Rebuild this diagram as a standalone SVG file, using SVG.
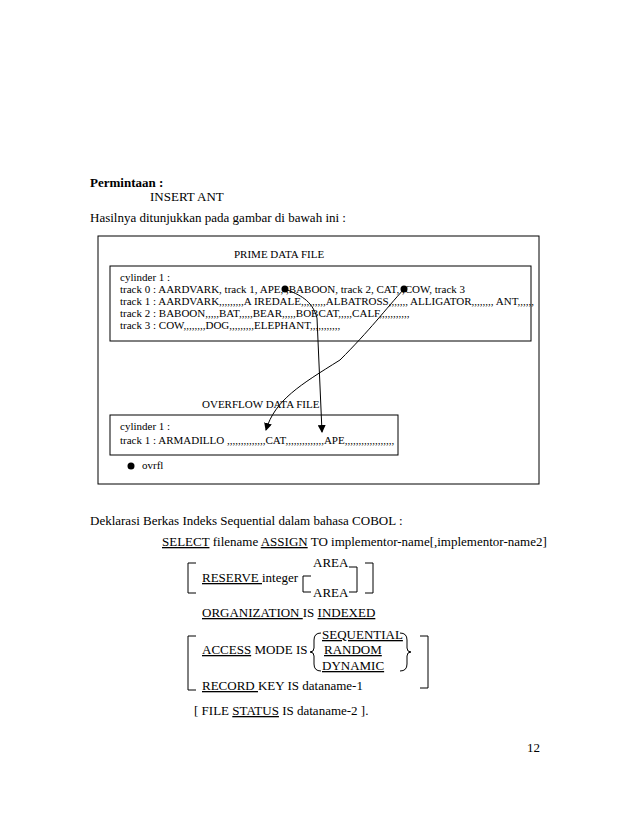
<svg xmlns="http://www.w3.org/2000/svg" width="638" height="826" viewBox="0 0 638 826">
<style>
text{font-family:"Liberation Serif",serif;fill:#000}
.b{font-size:13px}
.s{font-size:11px}
.box{fill:none;stroke:#000;stroke-width:1}
.br{fill:none;stroke:#000;stroke-width:1}
.u{text-decoration:underline}
</style>
<defs><marker id="ah" markerWidth="8" markerHeight="8" refX="7" refY="4" orient="auto" markerUnits="userSpaceOnUse"><path d="M0,0 L8,4 L0,8 z" fill="#000"/></marker></defs>
<rect width="638" height="826" fill="#fff"/>
<text class="b" x="90" y="187" font-weight="bold">Permintaan :</text>
<text class="b" x="150" y="201">INSERT ANT</text>
<text class="b" x="90" y="222">Hasilnya ditunjukkan pada gambar di bawah ini :</text>
<g id="outer"><rect class="box" x="98" y="236" width="441" height="248"/></g>
<g id="prime">
<text class="s" x="234" y="258">PRIME DATA FILE</text>
<rect class="box" x="110" y="266" width="421" height="75"/>
<text class="s" x="120" y="281">cylinder 1 :</text>
<text class="s" x="120" y="293">track 0 : AARDVARK, track 1, APE,  ,BABOON, track 2, CAT,  ,COW, track 3</text>
<text class="s" x="120" y="305">track 1 : AARDVARK,,,,,,,,,A IREDALE,,,,,,,,,ALBATROSS,,,,,,, ALLIGATOR,,,,,,,, ANT,,,,,,</text>
<text class="s" x="120" y="317">track 2 : BABOON,,,,,BAT,,,,,BEAR,,,,,BOBCAT,,,,,CALF,,,,,,,,,,,</text>
<text class="s" x="120" y="329">track 3 : COW,,,,,,,,DOG,,,,,,,,,ELEPHANT,,,,,,,,,,,</text>
<circle cx="285" cy="289" r="3.5"/><circle cx="404" cy="289" r="3.5"/>
</g>
<g id="overflow">
<text class="s" x="202" y="408">OVERFLOW DATA FILE</text>
<rect class="box" x="110" y="415" width="288" height="40"/>
<text class="s" x="120" y="430">cylinder 1 :</text>
<text class="s" x="120" y="444">track 1 : ARMADILLO ,,,,,,,,,,,,,,CAT,,,,,,,,,,,,,,APE,,,,,,,,,,,,,,,,,,</text>
</g>
<g id="legend"><circle cx="131" cy="466" r="3.5"/><text class="s" x="142" y="469">ovrfl</text></g>
<g id="connectors" fill="none" stroke="#000" stroke-width="1">
<path d="M285,289 C300,295 312,300 317,318 L322,432" marker-end="url(#ah)"/>
<path d="M404,289 C385,310 370,330 340,360 C300,385 275,400 266,430" marker-end="url(#ah)"/>
</g>
<g id="cobol">
<text class="b" x="90" y="525">Deklarasi Berkas Indeks Sequential dalam bahasa COBOL :</text>
<text class="b" x="162" y="546"><tspan class="u">SELECT</tspan> filename <tspan class="u">ASSIGN</tspan> TO implementor-name[,implementor-name2]</text>
<text class="b" x="313" y="567">AREA</text>
<text class="b" x="202" y="582"><tspan class="u">RESERVE </tspan>integer</text>
<text class="b" x="313" y="597">AREA</text>
<path class="br" d="M196,563 L188,563 L188,593 L196,593"/>
<path class="br" d="M365,563 L373,563 L373,593 L365,593"/>
<path class="br" d="M311,576 L303,576 L303,592 L311,592"/>
<path class="br" d="M349,567 L357,567 L357,592 L349,592"/>
<text class="b" x="202" y="617"><tspan class="u">ORGANIZATION </tspan>IS <tspan class="u">INDEXED</tspan></text>
<text class="b" x="322" y="639"><tspan class="u">SEQUENTIAL</tspan></text>
<text class="b" x="202" y="654"><tspan class="u">ACCESS</tspan> MODE IS</text>
<text class="b" x="324" y="654"><tspan class="u">RANDOM</tspan></text>
<text class="b" x="322" y="670"><tspan class="u">DYNAMIC</tspan></text>
<text class="b" x="202" y="690"><tspan class="u">RECORD </tspan>KEY IS dataname-1</text>
<path class="br" d="M196,636 L188,636 L188,690 L196,690"/>
<path class="br" d="M420,636 L428,636 L428,688 L420,688"/>
<path class="br" d="M321,633 Q314,633 314,640 L314,648 Q314,652 310,652 Q314,652 314,656 L314,664 Q314,671 321,671"/>
<path class="br" d="M400,633 Q407,633 407,640 L407,648 Q407,652 411,652 Q407,652 407,656 L407,664 Q407,671 400,671"/>
<text class="b" x="194" y="715">[  FILE <tspan class="u">STATUS</tspan> IS dataname-2  ].</text>
</g>
<text class="b" x="527" y="752">12</text>
</svg>
